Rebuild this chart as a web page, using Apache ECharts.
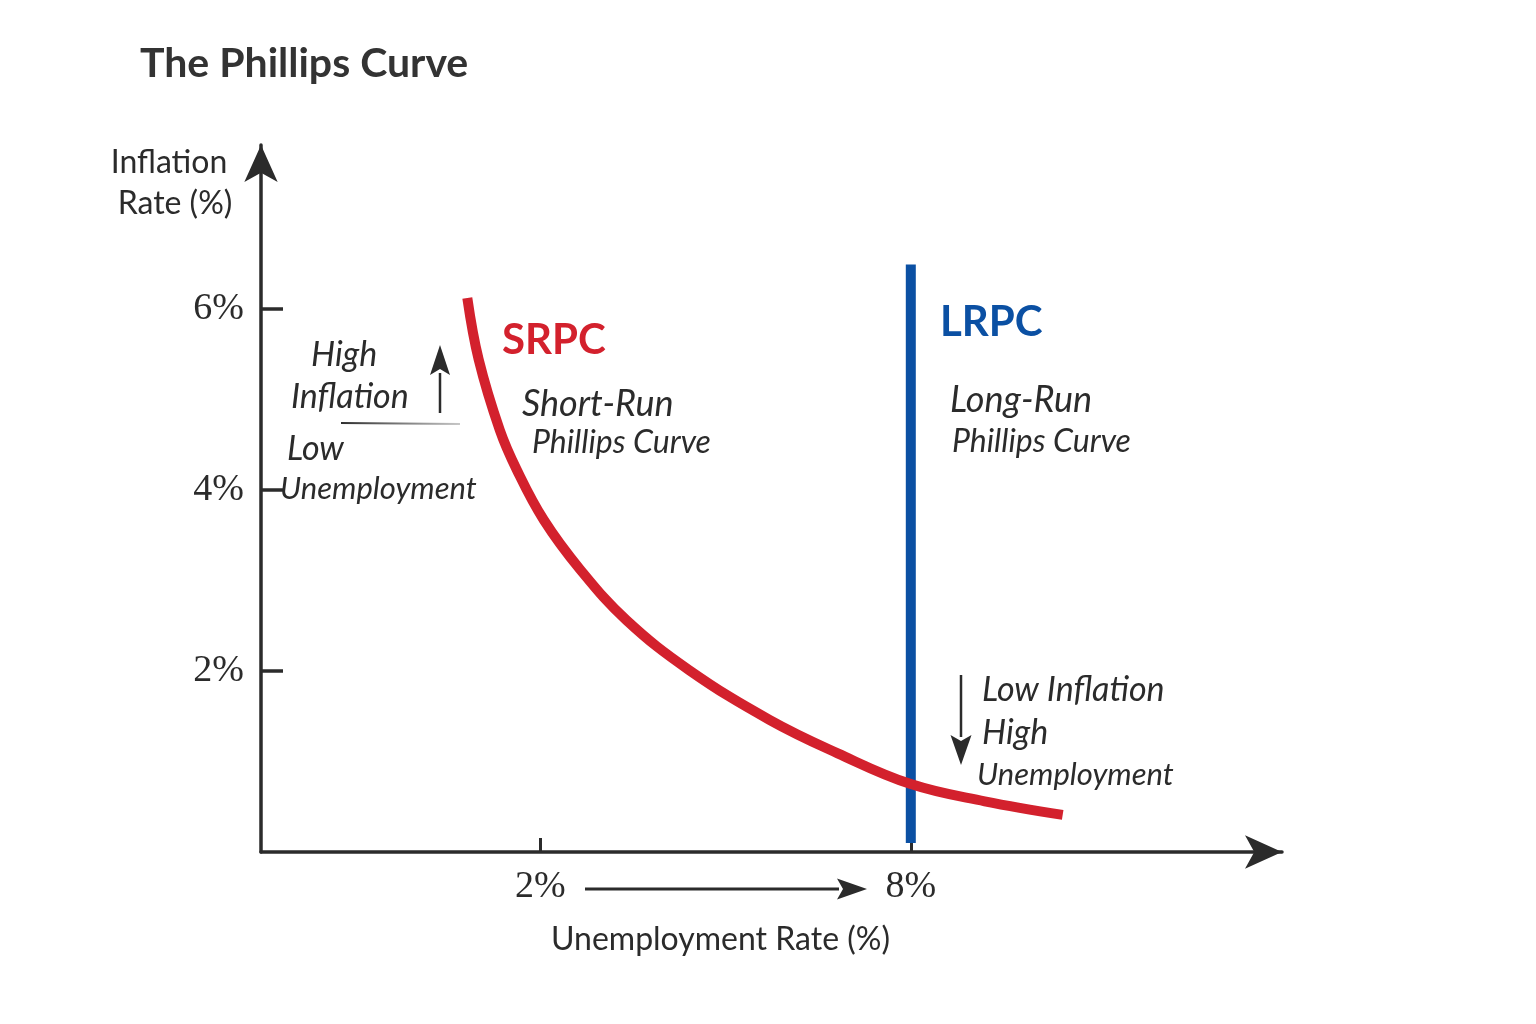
<!DOCTYPE html>
<html>
<head>
  <meta charset="utf-8" />
  <title>The Phillips Curve</title>
  <script src="https://cdn.jsdelivr.net/npm/echarts@6.0.0/dist/echarts.min.js"></script>
  <style>
    html, body { margin: 0; padding: 0; background: #fff; }
  </style>
</head>
<body>
  <div id="main" style="width: 1536px;height:1024px;"></div>
  <script type="text/javascript">
    // schematic Phillips curve, x axis is not to scale (2% and 8% are just markers)

    // short-run curve (x in axis units, y in %)
    var srpcX = [2.54, 2.68, 2.94, 3.15, 3.48, 3.93, 4.50, 5.27, 6.26, 7.10, 8.00, 8.91, 9.87];
    var srpcY = [6.12, 5.44, 4.66, 4.22, 3.67, 3.12, 2.56, 2.01, 1.46, 1.09, 0.75, 0.56, 0.41];

    // long-run curve: vertical at the natural rate
    var lrpcX = [8, 8];
    var lrpcY = [0.1, 6.49];

    // tick labels
    var yTickValues = [2, 4, 6];
    var yTickLabels = ['2%', '4%', '6%'];
    var xTickValues = [3.44, 8];
    var xTickLabels = ['2%', '8%'];

    var ink = '#2b2b2b';
    var red = '#d3212d';
    var blue = '#0b50a3';

    var myChart = echarts.init(document.getElementById('main'));

    var zip = function (xs, ys) {
      return xs.map(function (x, i) { return [x, ys[i]]; });
    };

    var txt = function (x, y, s, font, color, align) {
      return {
        type: 'text',
        x: x,
        y: y,
        style: {
          text: s,
          font: font,
          fill: color || ink,
          textAlign: align || 'left',
          textVerticalAlign: 'middle'
        }
      };
    };

    // straight arrow with a filled head, tip at (x2, y2)
    var arrow = function (x1, y1, x2, y2, headLen, headW, lw) {
      var dx = x2 - x1, dy = y2 - y1;
      var len = Math.sqrt(dx * dx + dy * dy);
      var ux = dx / len, uy = dy / len;
      var bx = x2 - ux * headLen, by = y2 - uy * headLen;
      var nx = -uy * headW / 2, ny = ux * headW / 2;
      return {
        type: 'group',
        children: [
          {
            type: 'line',
            shape: { x1: x1, y1: y1, x2: bx + ux * 2, y2: by + uy * 2 },
            style: { stroke: ink, lineWidth: lw }
          },
          {
            type: 'polygon',
            shape: { points: [[x2, y2], [bx + nx, by + ny], [bx + ux * 6, by + uy * 6], [bx - nx, by - ny]] },
            style: { fill: ink }
          }
        ]
      };
    };

    var italic = 'italic 34px Lato';

    var option = {
      backgroundColor: '#fff',
      animation: false,
      grid: {
        left: 261,
        right: 254,
        top: 145,
        bottom: 172
      },
      xAxis: {
        type: 'value',
        min: 0,
        max: 12.57,
        splitLine: { show: false },
        axisLine: {
          symbol: ['none', 'arrow'],
          symbolSize: [25, 37],
          lineStyle: { color: ink, width: 3.5 }
        },
        axisTick: {
          inside: true,
          length: 14,
          customValues: xTickValues,
          lineStyle: { color: ink, width: 3 }
        },
        axisLabel: {
          customValues: xTickValues,
          margin: 16,
          fontFamily: 'Liberation Serif',
          fontSize: 38,
          color: ink,
          formatter: function (v) {
            var i = xTickValues.indexOf(v);
            return i >= 0 ? xTickLabels[i] : '';
          }
        }
      },
      yAxis: {
        type: 'value',
        min: 0,
        max: 7.81,
        splitLine: { show: false },
        axisLine: {
          symbol: ['none', 'arrow'],
          symbolSize: [25, 37],
          lineStyle: { color: ink, width: 3.5 }
        },
        axisTick: {
          inside: true,
          length: 22,
          customValues: yTickValues,
          lineStyle: { color: ink, width: 3.5 }
        },
        axisLabel: {
          customValues: yTickValues,
          margin: 17,
          fontFamily: 'Liberation Serif',
          fontSize: 38,
          color: ink,
          formatter: function (v) {
            var i = yTickValues.indexOf(v);
            return i >= 0 ? yTickLabels[i] : '';
          }
        }
      },
      series: [
        {
          name: 'LRPC',
          type: 'line',
          data: zip(lrpcX, lrpcY),
          showSymbol: false,
          lineStyle: { color: blue, width: 10, cap: 'butt' }
        },
        {
          name: 'SRPC',
          type: 'line',
          data: zip(srpcX, srpcY),
          smooth: 0.4,
          showSymbol: false,
          lineStyle: { color: red, width: 10, cap: 'butt' }
        }
      ],
      graphic: [
        txt(140, 64, 'The Phillips Curve', 'bold 41px Lato', '#333'),
        txt(169, 163, 'Inflation', '32px Lato', ink, 'center'),
        txt(175, 204, 'Rate (%)', '32px Lato', ink, 'center'),
        txt(551, 940, 'Unemployment Rate (%)', '32px Lato', ink),

        txt(311, 355, 'High', italic),
        txt(291, 397, 'Inflation', italic),
        txt(287, 449, 'Low', italic),
        txt(280, 489, 'Unemployment', 'italic 31px Lato'),

        txt(502, 340, 'SRPC', 'bold 42px Lato', red),
        txt(522, 404, 'Short-Run', 'italic 36px Lato'),
        txt(532, 443, 'Phillips Curve', 'italic 32px Lato'),

        txt(940, 322, 'LRPC', 'bold 42px Lato', blue),
        txt(950, 400, 'Long-Run', 'italic 36px Lato'),
        txt(952, 442, 'Phillips Curve', 'italic 32px Lato'),

        txt(982, 690, 'Low Inflation', italic),
        txt(982, 733, 'High', italic),
        txt(977, 775, 'Unemployment', 'italic 31px Lato'),

        // underline between the two left labels
        {
          type: 'line',
          shape: { x1: 341, y1: 423, x2: 460, y2: 424 },
          style: {
            lineWidth: 2,
            stroke: new echarts.graphic.LinearGradient(0, 0, 1, 0, [
              { offset: 0, color: 'rgba(43,43,43,1)' },
              { offset: 1, color: 'rgba(43,43,43,0.25)' }
            ])
          }
        },
        arrow(440, 413, 440, 345, 30, 20, 2.5),
        arrow(961, 675, 961, 765, 30, 21, 2.5),
        arrow(585, 889, 867, 889, 30, 21, 3)
      ]
    };

    option && myChart.setOption(option);
  </script>
</body>
</html>
